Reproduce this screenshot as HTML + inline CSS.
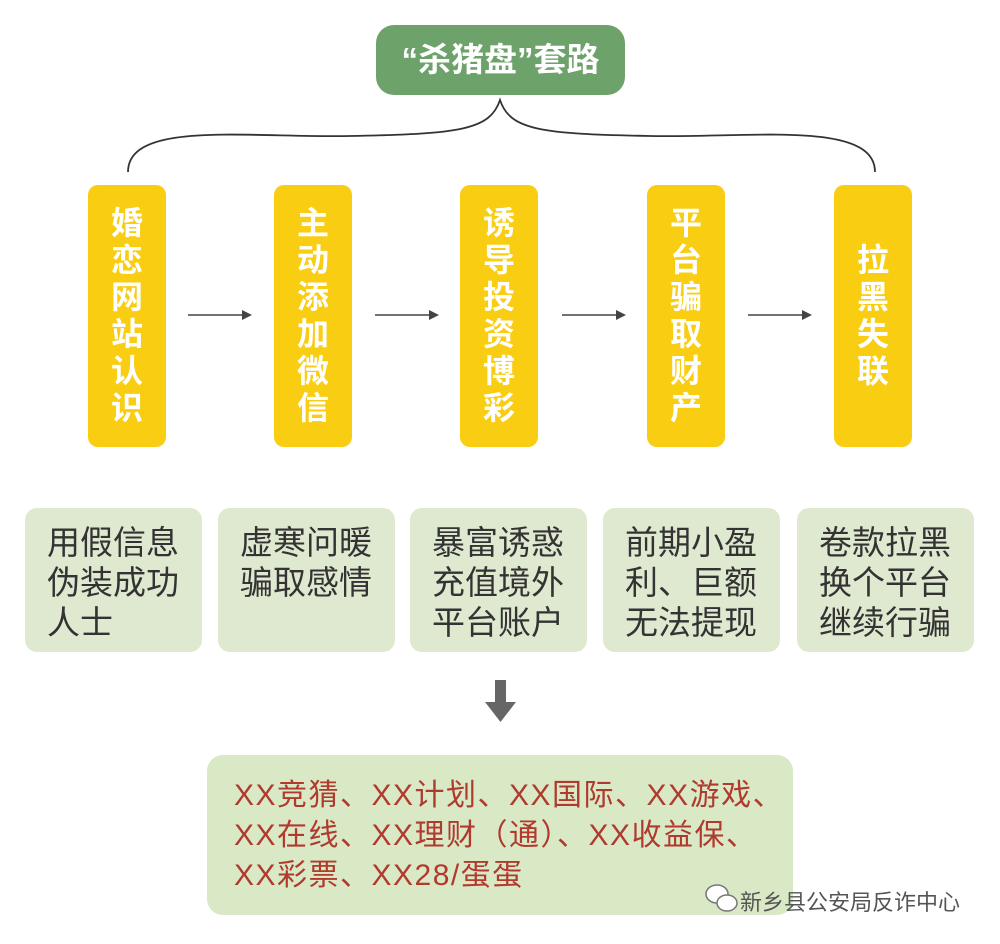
<!DOCTYPE html>
<html><head><meta charset="utf-8"><style>
body{margin:0;width:1000px;height:944px;background:#fff;position:relative;overflow:hidden;font-family:"Liberation Sans","Noto Sans CJK SC",sans-serif}
.t{position:absolute;left:376px;top:25px;width:249px;height:70px;background:#6da26b;border-radius:18px;color:#fff;font-weight:bold;font-size:33px;text-align:center;line-height:70px}
.y{position:absolute;top:185px;width:78px;height:262px;background:#f8cd12;border-radius:10px;color:#fff;font-weight:bold;font-size:32px;line-height:37px;text-align:center;display:flex;align-items:center;justify-content:center}
.y span{width:34px;word-break:break-all}
.g{position:absolute;top:508px;width:177px;height:144px;background:#dfe9d0;border-radius:12px;color:#333;font-size:33px;line-height:40px;padding:15px 0 0 22px;box-sizing:border-box;white-space:nowrap}
.b{position:absolute;left:207px;top:755px;width:586px;height:160px;background:#d9e9c6;border-radius:16px;color:#b03a2e;font-size:30px;line-height:40px;padding:21px 0 0 27px;box-sizing:border-box;letter-spacing:1.5px;white-space:nowrap}
.w{position:absolute;left:740px;top:885px;color:#555;font-size:22px}
</style></head><body>
<div class="t">“杀猪盘”套路</div>
<svg width="1000" height="944" style="position:absolute;left:0;top:0">
<path d="M128 172 C128 120,250 138,350 136 C460 134,490 130,500 100 C510 130,540 134,650 136 C750 138,875 120,875 172" fill="none" stroke="#333" stroke-width="1.8"/>
<g stroke="#444" stroke-width="1.6"><line x1="188" y1="315" x2="244" y2="315"/><line x1="375" y1="315" x2="431" y2="315"/><line x1="562" y1="315" x2="618" y2="315"/><line x1="748" y1="315" x2="804" y2="315"/></g>
<g fill="#444"><path d="M252 315l-10-5v10z"/><path d="M439 315l-10-5v10z"/><path d="M626 315l-10-5v10z"/><path d="M812 315l-10-5v10z"/></g>
<path d="M495 680h11v22h10l-15.5 20-15.5-20h10z" fill="#666"/>
</svg>
<div class="y" style="left:88px"><span>婚恋网站认识</span></div>
<div class="y" style="left:274px"><span>主动添加微信</span></div>
<div class="y" style="left:460px"><span>诱导投资博彩</span></div>
<div class="y" style="left:647px"><span>平台骗取财产</span></div>
<div class="y" style="left:834px"><span>拉黑失联</span></div>
<div class="g" style="left:25px">用假信息<br>伪装成功<br>人士</div>
<div class="g" style="left:218px">虚寒问暖<br>骗取感情</div>
<div class="g" style="left:410px">暴富诱惑<br>充值境外<br>平台账户</div>
<div class="g" style="left:603px">前期小盈<br>利、巨额<br>无法提现</div>
<div class="g" style="left:797px">卷款拉黑<br>换个平台<br>继续行骗</div>
<div class="b">XX竞猜、XX计划、XX国际、XX游戏、<br>XX在线、XX理财（通）、XX收益保、<br>XX彩票、XX28/蛋蛋</div>
<svg width="40" height="40" style="position:absolute;left:704px;top:882px">
<g fill="#fff" stroke="#777" stroke-width="1.5"><ellipse cx="13" cy="12" rx="11" ry="9"/><ellipse cx="23" cy="21" rx="10" ry="8"/></g>
</svg>
<div class="w">新乡县公安局反诈中心</div>
</body></html>
